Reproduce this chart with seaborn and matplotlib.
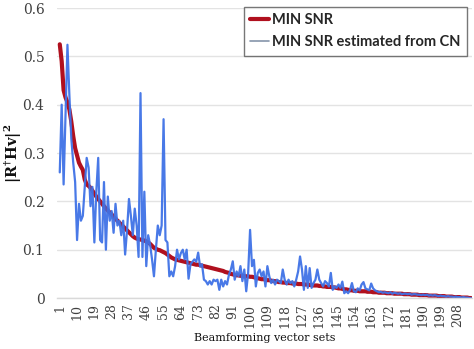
import numpy as np
import pandas as pd
import matplotlib
matplotlib.use("Agg")
import matplotlib.pyplot as plt
import seaborn as sns

# ---------------- data ----------------
min_snr = [
    0.525, 0.49, 0.43, 0.415, 0.405, 0.39, 0.365, 0.335, 0.31, 0.295,
    0.28, 0.272, 0.265, 0.245, 0.235, 0.232, 0.228, 0.222, 0.216, 0.21,
    0.205, 0.2, 0.195, 0.19, 0.185, 0.181, 0.177, 0.173, 0.168, 0.164,
    0.16, 0.156, 0.152, 0.148, 0.144, 0.14, 0.136, 0.132, 0.128, 0.125,
    0.123, 0.122, 0.121, 0.12, 0.119, 0.117, 0.115, 0.112, 0.108, 0.104,
    0.102, 0.1, 0.099, 0.097, 0.095, 0.093, 0.09, 0.087, 0.084, 0.082,
    0.08, 0.079, 0.078, 0.077, 0.076, 0.075, 0.074, 0.073, 0.072, 0.071,
    0.070, 0.069, 0.069, 0.068, 0.067, 0.066, 0.065, 0.064, 0.063, 0.062,
    0.061, 0.060, 0.059, 0.058, 0.057, 0.056, 0.054, 0.053, 0.052, 0.050,
    0.049, 0.048, 0.047, 0.047, 0.046, 0.046, 0.045, 0.045, 0.045, 0.044,
    0.044, 0.043, 0.042, 0.041, 0.040, 0.039, 0.039, 0.038, 0.037, 0.037,
    0.036, 0.035, 0.035, 0.034, 0.033, 0.033, 0.032, 0.032, 0.031, 0.031,
    0.031, 0.030, 0.030, 0.030, 0.029, 0.029, 0.029, 0.028, 0.028, 0.028,
    0.027, 0.027, 0.026, 0.026, 0.026, 0.025, 0.025, 0.024, 0.024, 0.023,
    0.023, 0.023, 0.022, 0.022, 0.021, 0.020, 0.020, 0.019, 0.018, 0.018,
    0.017, 0.016, 0.016, 0.015, 0.015, 0.015, 0.014, 0.014, 0.014, 0.014,
    0.013, 0.013, 0.013, 0.012, 0.012, 0.012, 0.011, 0.011, 0.011, 0.011,
    0.010, 0.010, 0.010, 0.010, 0.009, 0.009, 0.009, 0.009, 0.009, 0.008,
    0.008, 0.008, 0.008, 0.007, 0.007, 0.007, 0.007, 0.006, 0.006, 0.006,
    0.006, 0.006, 0.005, 0.005, 0.005, 0.005, 0.005, 0.004, 0.004, 0.004,
    0.004, 0.003, 0.003, 0.003, 0.003, 0.002, 0.002, 0.002, 0.002, 0.001,
    0.001, 0.001, 0.001, 0.000, 0.000,
]

min_snr_cn = [
    0.26, 0.40, 0.235, 0.38, 0.524, 0.42, 0.33, 0.28, 0.24, 0.12,
    0.195, 0.16, 0.17, 0.23, 0.29, 0.27, 0.19, 0.23, 0.115, 0.22,
    0.29, 0.12, 0.115, 0.24, 0.10, 0.21, 0.16, 0.18, 0.135, 0.195,
    0.15, 0.16, 0.13, 0.16, 0.09, 0.14, 0.205, 0.17, 0.13, 0.185,
    0.15, 0.085, 0.424, 0.085, 0.22, 0.066, 0.13, 0.11, 0.08, 0.045,
    0.10, 0.15, 0.13, 0.15, 0.37, 0.12, 0.115, 0.045, 0.055, 0.045,
    0.066, 0.10, 0.08, 0.093, 0.10, 0.08, 0.10, 0.04, 0.07, 0.075,
    0.08, 0.075, 0.094, 0.065, 0.07, 0.038, 0.035, 0.028, 0.035, 0.028,
    0.038, 0.035, 0.038, 0.017, 0.038, 0.024, 0.035, 0.028, 0.048, 0.059,
    0.076, 0.038, 0.055, 0.045, 0.066, 0.035, 0.059, 0.014, 0.052, 0.141,
    0.066, 0.079, 0.024, 0.052, 0.059, 0.045, 0.055, 0.024, 0.066, 0.045,
    0.031, 0.038, 0.028, 0.038, 0.035, 0.031, 0.059, 0.038, 0.028, 0.038,
    0.031, 0.035, 0.024, 0.038, 0.055, 0.086, 0.059, 0.017, 0.066, 0.021,
    0.062, 0.021, 0.031, 0.038, 0.059, 0.038, 0.031, 0.024, 0.035, 0.031,
    0.024, 0.052, 0.017, 0.024, 0.021, 0.028, 0.021, 0.034, 0.010, 0.014,
    0.010, 0.017, 0.031, 0.014, 0.012, 0.020, 0.016, 0.028, 0.033, 0.020,
    0.018, 0.016, 0.030, 0.020, 0.016, 0.014, 0.012, 0.013, 0.011, 0.012,
    0.011, 0.010, 0.012, 0.009, 0.011, 0.010, 0.009, 0.010, 0.008, 0.009,
    0.009, 0.008, 0.009, 0.007, 0.008, 0.008, 0.007, 0.007, 0.006, 0.007,
    0.006, 0.007, 0.005, 0.006, 0.005, 0.006, 0.005, 0.004, 0.005, 0.004,
    0.004, 0.003, 0.004, 0.003, 0.003, 0.002, 0.003, 0.002, 0.002, 0.001,
    0.002, 0.001, 0.001, 0.000, 0.000,
]

x_ticks = [1, 10, 19, 28, 37, 46, 55, 64, 73, 82, 91, 100, 109, 118, 127,
           136, 145, 154, 163, 172, 181, 190, 199, 208]
y_ticks = [0, 0.1, 0.2, 0.3, 0.4, 0.5, 0.6]
y_tick_labels = ["0", "0.1", "0.2", "0.3", "0.4", "0.5", "0.6"]
series_names = ["MIN SNR", "MIN SNR estimated from CN"]

# ---------------- plot ----------------
sns.set_style("white")
plt.rcParams["mathtext.fontset"] = "dejavuserif"

sets = np.arange(1, len(min_snr) + 1)
df = pd.DataFrame({
    "set": np.concatenate([sets, sets]),
    "value": np.concatenate([min_snr, min_snr_cn]),
    "series": [series_names[0]] * len(min_snr) + [series_names[1]] * len(min_snr_cn),
})

fig = plt.figure(figsize=(4.74, 3.49), dpi=100)
ax = fig.add_axes([0.120, 0.146, 0.876, 0.831])

sns.lineplot(data=df[df.series == series_names[0]], x="set", y="value",
             color="#B0101E", linewidth=3.0, ax=ax, label=series_names[0])
sns.lineplot(data=df[df.series == series_names[1]], x="set", y="value",
             color="#3F72E6", linewidth=1.6, ax=ax, label=series_names[1],
             alpha=0.95)

ax.set_xlim(-0.5, 215.5)
ax.set_ylim(0, 0.6)
ax.set_yticks(y_ticks)
ax.set_yticklabels(y_tick_labels, family="DejaVu Serif", fontsize=10, color="#404040")
ax.set_xticks(x_ticks)
ax.set_xticklabels([str(t) for t in x_ticks], rotation=90, family="DejaVu Serif",
                   fontsize=9, color="#404040")
ax.tick_params(axis="x", length=0, pad=4)
ax.tick_params(axis="y", length=0, pad=9)

ax.yaxis.grid(True, color="#E3E3E3", linewidth=1.0)
ax.set_axisbelow(True)
for s in ["top", "right", "left"]:
    ax.spines[s].set_visible(False)
ax.spines["bottom"].set_color("#D9D9D9")
ax.spines["bottom"].set_linewidth(1.0)

ax.set_xlabel("Beamforming vector sets", family="DejaVu Serif", fontsize=8,
              color="#111111", labelpad=4)
ax.set_ylabel(r"$\mathbf{|R^{\dagger}Hv|^{2}}$", fontsize=10.5, color="#111111",
              labelpad=0)
ax.yaxis.set_label_coords(-0.079, 0.5)

leg = ax.legend(loc="upper right", bbox_to_anchor=(0.988, 1.004),
                borderaxespad=0, frameon=True, fancybox=False,
                prop={"family": "Lato", "weight": "bold", "size": 10.5},
                handlelength=1.3, handletextpad=0.2, labelspacing=0.55,
                borderpad=0.45)
leg.get_frame().set_edgecolor("#555555")
leg.get_frame().set_linewidth(1.0)
leg.get_lines()[1].set_color("#7F8FA6")
leg.get_lines()[1].set_linewidth(1.2)

fig.savefig("out.png", dpi=100)
